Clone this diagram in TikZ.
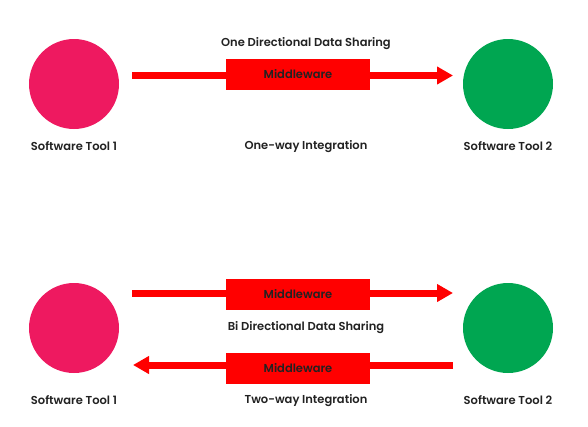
\documentclass[tikz,border=0pt]{standalone}
\usepackage{fontspec}
\setmainfont{Poppins}[BoldFont={Poppins SemiBold}]
\usetikzlibrary{arrows.meta}
\definecolor{toolpink}{RGB}{238,25,96}
\definecolor{toolgreen}{RGB}{0,166,81}
\definecolor{arrred}{RGB}{255,0,0}
\definecolor{txt}{RGB}{34,34,34}
\tikzset{
  tool/.style={circle, minimum size=90pt, inner sep=0pt},
  mw/.style={fill=arrred, minimum width=144pt, minimum height=31pt, inner sep=0pt, text=txt, font=\fontsize{11.5pt}{13pt}\selectfont\bfseries},
  lbl/.style={text=txt, font=\fontsize{11.5pt}{13pt}\selectfont\bfseries, inner sep=0pt},
  flow/.style={draw=arrred, line width=7pt, -{Triangle[length=16pt,width=17pt]}},
}
\begin{document}
\begin{tikzpicture}[x=1pt,y=-1pt]
\useasboundingbox (0,0) rectangle (588,426);
% top
\node[tool, fill=toolpink] (t1) at (74,84) {};
\node[tool, fill=toolgreen] (t2) at (508,84) {};
\coordinate (a1s) at (132,75.5);
\coordinate (a1e) at (453,75.5);
\draw[flow] (a1s) -- (a1e);
\node[mw] (m1) at (298,74.5) {Middleware};
\node[lbl] (h1) at (306,43.5) {One Directional Data Sharing};
\node[lbl] (l1) at (74,146.5) {Software Tool 1};
\node[lbl] (l2) at (306,146.5) {One-way Integration};
\node[lbl] (l3) at (508,146.5) {Software Tool 2};
% bottom
\node[tool, fill=toolpink] (b1) at (74,328) {};
\node[tool, fill=toolgreen] (b2) at (508,328) {};
\coordinate (b1s) at (132,293);
\coordinate (b1e) at (453,293);
\coordinate (b2s) at (453,365);
\coordinate (b2e) at (133,365);
\draw[flow] (b1s) -- (b1e);
\draw[flow] (b2s) -- (b2e);
\node[mw] (m2) at (298,294.5) {Middleware};
\node[mw] (m3) at (298,368.5) {Middleware};
\node[lbl] (h2) at (306,327.5) {Bi Directional Data Sharing};
\node[lbl] (k1) at (74,400.5) {Software Tool 1};
\node[lbl] (k2) at (306,400.5) {Two-way Integration};
\node[lbl] (k3) at (508,400.5) {Software Tool 2};
\end{tikzpicture}
\end{document}
